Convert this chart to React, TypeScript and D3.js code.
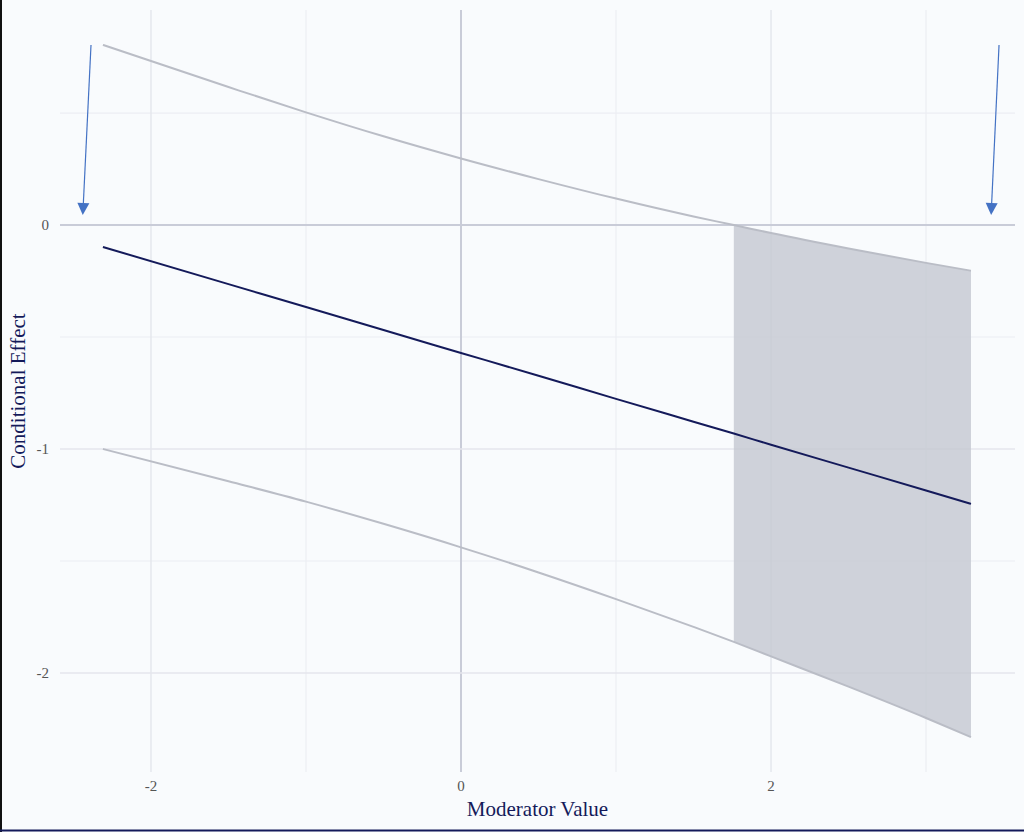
import React from "react";
import * as d3 from "d3";

const moderator = [-2.31, -1.5, -1, -0.5, 0, 0.5, 1, 1.5, 1.76, 2, 2.5, 3, 3.29];
const effect = [-0.098, -0.264, -0.366, -0.469, -0.571, -0.673, -0.776, -0.878, -0.931, -0.981, -1.083, -1.185, -1.245];
const upper = [0.804, 0.616, 0.503, 0.396, 0.297, 0.205, 0.118, 0.038, 0.0, -0.036, -0.105, -0.169, -0.204];
const lower = [-1.0, -1.144, -1.235, -1.334, -1.439, -1.551, -1.67, -1.794, -1.861, -1.926, -2.061, -2.201, -2.286];
const significantFrom = 1.76;

const xTicks = [-2, 0, 2];
const xMinor = [-1, 1, 3];
const yTicks = [0, -1, -2];
const yMinor = [0.5, -0.5, -1.5];

const arrowStarts = [{ x: -2.387, y: 0.804 }, { x: 3.471, y: 0.804 }];
const arrowEnds = [{ x: -2.44, y: 0.045 }, { x: 3.42, y: 0.045 }];

const W = 1024, H = 832;
const P = { left: 60, right: 1015, top: 10, bottom: 772 };
const BG = "#f9fbfd";
const SERIF = "'Liberation Serif', 'Times New Roman', serif";

export default function App() {
  const x = d3.scaleLinear().domain([-2.587, 3.574]).range([P.left, P.right]);
  const y = d3.scaleLinear().domain([0.96, -2.442]).range([P.top, P.bottom]);

  const pts = moderator.map((m, i) => ({ m, e: effect[i], u: upper[i], l: lower[i] }));
  const sig = pts.filter((p) => p.m >= significantFrom);

  const area = d3.area<any>().x((d) => x(d.m)).y0((d) => y(d.l)).y1((d) => y(d.u)).curve(d3.curveMonotoneX);
  const line = (key: "e" | "u" | "l") =>
    d3.line<any>().x((d) => x(d.m)).y((d) => y(d[key])).curve(d3.curveMonotoneX)(pts) || "";

  return (
    <svg width={W} height={H} style={{ display: "block", position: "absolute", left: 0, top: 0 }}>
      <rect x={0} y={0} width={W} height={H} fill={BG} />
      {xMinor.map((t) => (
        <line key={"xm" + t} x1={x(t)} x2={x(t)} y1={P.top} y2={P.bottom} stroke="#eceef3" strokeWidth={1.2} />
      ))}
      {yMinor.map((t) => (
        <line key={"ym" + t} x1={P.left} x2={P.right} y1={y(t)} y2={y(t)} stroke="#eceef3" strokeWidth={1.2} />
      ))}
      {xTicks.map((t) => (
        <line key={"xg" + t} x1={x(t)} x2={x(t)} y1={P.top} y2={P.bottom}
          stroke={t === 0 ? "#c9ccd8" : "#e4e6ec"} strokeWidth={t === 0 ? 2 : 1.4} />
      ))}
      {yTicks.map((t) => (
        <line key={"yg" + t} x1={P.left} x2={P.right} y1={y(t)} y2={y(t)}
          stroke={t === 0 ? "#c9ccd8" : "#e4e6ec"} strokeWidth={t === 0 ? 2 : 1.4} />
      ))}
      <path d={area(sig) || ""} fill="#c4c8d1" fillOpacity={0.8} />
      <path d={line("u")} fill="none" stroke="#babdc6" strokeWidth={2} />
      <path d={line("l")} fill="none" stroke="#babdc6" strokeWidth={2} />
      <path d={line("e")} fill="none" stroke="#141a5a" strokeWidth={2} />
      {xTicks.map((t) => (
        <text key={"xt" + t} x={x(t)} y={791} textAnchor="middle" fontFamily={SERIF} fontSize={15} fill="#555">
          {t}
        </text>
      ))}
      {yTicks.map((t) => (
        <text key={"yt" + t} x={49} y={y(t) + 5} textAnchor="end" fontFamily={SERIF} fontSize={15} fill="#555">
          {t}
        </text>
      ))}
      <text x={(P.left + P.right) / 2} y={816} textAnchor="middle" fontFamily={SERIF} fontSize={21} fill="#141a5a">
        Moderator Value
      </text>
      <text transform={`translate(25, ${(P.top + P.bottom) / 2}) rotate(-90)`} textAnchor="middle"
        fontFamily={SERIF} fontSize={21} fill="#141a5a">
        Conditional Effect
      </text>
      {arrowStarts.map((s, i) => {
        const e = arrowEnds[i];
        const x1 = x(s.x), y1 = y(s.y), x2 = x(e.x), y2 = y(e.y);
        const ang = Math.atan2(y2 - y1, x2 - x1);
        const len = 12, half = 6;
        const bx = x2 - len * Math.cos(ang), by = y2 - len * Math.sin(ang);
        const px = -Math.sin(ang) * half, py = Math.cos(ang) * half;
        return (
          <g key={"ar" + i}>
            <line x1={x1} y1={y1} x2={bx} y2={by} stroke="#4472c4" strokeWidth={1.2} />
            <path d={`M${x2},${y2} L${bx + px},${by + py} L${bx - px},${by - py} Z`} fill="#4472c4" />
          </g>
        );
      })}
      <line x1={1} x2={1} y1={0} y2={H} stroke="#111" strokeWidth={2} />
      <line x1={0} x2={W} y1={830.5} y2={830.5} stroke="#141a5a" strokeWidth={2} />
    </svg>
  );
}
